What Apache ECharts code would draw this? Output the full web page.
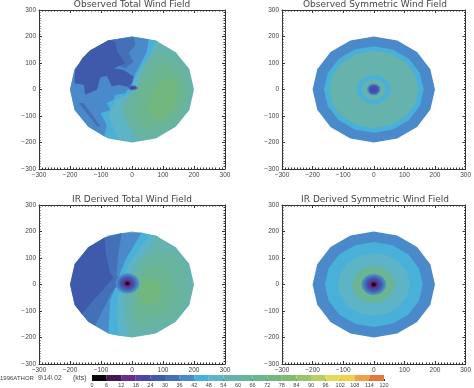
<!DOCTYPE html>
<html>
<head>
<meta charset="utf-8">
<style>html,body{margin:0;padding:0;background:#fff}#main{width:474px;height:388px}</style>
<script src="https://cdn.jsdelivr.net/npm/echarts@6/dist/echarts.min.js"></script>
</head>
<body>
<div id="main"></div>
<script>
// colour bar, one colour per 6 kt step
var barLevels = [0,6,12,18,24,30,36,42,48,54,60,66,72,78,84,90,96,102,108,114];
var barColors = ['#0a0508','#451a50','#6a2d8a','#4f45a5','#405aab','#4470b8','#4a8aca','#49b0da','#5cb4c6','#66b2ac',
                 '#68b49e','#6bb590','#72b87e','#80bd6e','#98c46c','#b8cf66','#e0dc55','#f0d048','#eca048','#e2783c'];

// storm outline, km from centre
var rim = [[200,0],[185,77],[141,141],[77,185],[0,200],[-77,185],[-141,141],[-185,77],[-200,0],[-185,-77],[-141,-141],[-77,-185],[0,-200],[77,-185],[141,-141],[185,-77]];

// observed total field, contour regions
var obsTotal48 = [[-40,-190],[10,-199],[0,-160],[-25,-110],[-35,-60],[-15,-25],[20,20],[30,70],[60,130],[85,180],[77,185],[0,100],[-100,-100]];
var obsTotal60 = [[30,-188],[100,-165],[150,-128],[182,-60],[190,10],[175,78],[130,128],[80,140],[45,90],[25,40],[10,0],[-5,-30],[-20,-80],[0,-140]];
var obsTotal66 = [[40,-150],[100,-135],[150,-90],[170,-30],[165,40],[130,90],[90,100],[60,60],[35,20],[20,-20],[10,-60],[15,-110]];
var obsTotal72 = [[70,-115],[110,-105],[140,-60],[150,0],[135,40],[105,45],[80,15],[60,-30],[50,-80]];
var obsTotal42 = [[-90,-176],[-45,-189],[-62,-139],[-78,-95],[-62,-64],[-52,-39],[-16,-20],[0,-8],[5,24],[16,55],[38,99],[65,143],[77,185],[0,198],[-100,100],[-150,-60]];
var obsTotal36 = [[-200,0],[-185,77],[-141,141],[-77,185],[0,200],[54,190],[48,143],[27,93],[11,61],[0,24],[-11,5],[-22,-14],[-54,-20],[-59,-39],[-81,-51],[-70,-77],[-102,-89],[-81,-133],[-90,-176],[-141,-141],[-185,-77]];
var obsTotal30a = [[-70,187],[5,198],[11,168],[-11,137],[5,105],[-22,80],[-60,100],[-60,170]];
var obsTotal30b = [[-172,-51],[-156,-51],[-102,-139],[-113,-140]];
var obsTotal24 = [[-75,187],[-54,181],[-48,143],[-22,99],[-59,80],[-27,74],[5,49],[0,24],[-11,9],[-43,18],[-65,11],[-81,51],[-102,46],[-113,-1],[-151,-20],[-156,18],[-186,24],[-183,74],[-161,118],[-134,149]];
var obsTotalEyeA = [[15,10],[35,12],[35,0],[15,-2]];
var obsTotalEyeB = [[-14,6],[-5,16],[12,14],[20,5],[10,-2],[-5,-3]];
var obsTotalEyeC = [[-8,7],[0,13],[12,10],[14,5],[5,1],[-3,1]];

// IR total field, contour regions
var irTotal60 = [[15,-170],[80,-165],[140,-125],[175,-60],[180,15],[165,80],[125,120],[80,120],[35,85],[12,40],[-5,-20],[-5,-90]];
var irTotal66 = [[25,-120],[80,-120],[125,-80],[140,-25],[125,40],[85,70],[50,60],[25,30],[12,-20],[12,-75]];
var irTotal72 = [[35,-70],[65,-80],[95,-50],[90,-5],[65,20],[40,15],[25,-15],[25,-45]];
var irTotal48 = [[58,188],[85,182],[10,77],[-12,26],[-26,-36],[-23,-99],[-12,-197],[-44,-193],[-100,-50],[0,100]];
var irTotal42 = [[31,196],[58,188],[-12,77],[-33,14],[-44,-36],[-49,-99],[-44,-193],[-77,-185],[-100,0],[-50,100]];
var irTotal36 = [[-33,194],[31,196],[-23,89],[-39,39],[-49,1],[-71,-61],[-76,-184],[-119,-156],[-141,-100],[-50,100]];
var irTotal30 = [[-89,177],[-33,194],[-45,110],[-50,40],[-40,10],[-70,-40],[-119,-156],[-141,-141],[-165,-108],[-120,0]];
var irTotal24 = [[-89,177],[-84,114],[-71,45],[-60,26],[-162,-111],[-185,-77],[-200,0],[-185,77],[-141,141]];
var irCoreCentre = [-15,4];
var irCoreRadii = [38,31,25,19,14,9,5];
var irCoreValues = [36,30,24,18,12,6,0];

// symmetric fields, ring radius and wind value
var obsSymRadii = [200,163,146,55,39,22,17,10];
var obsSymValues = [36,42,54,42,54,36,24,18];
var irSymRadii = [200,160,118,72,58,40,33,27,21,15,10,6];
var irSymValues = [36,42,48,60,66,36,30,24,18,12,6,0];

var ringAngles = [0,22.5,45,67.5,90,112.5,135,157.5,180,202.5,225,247.5,270,292.5,315,337.5];

function ring(r, c) {
    c = c || [0,0];
    return ringAngles.map(function (a) {
        return [c[0] + r * Math.cos(a * Math.PI / 180), c[1] + r * Math.sin(a * Math.PI / 180)];
    });
}
function colorOf(v) {
    return barColors[barLevels.indexOf(v)];
}
function ringBands(radii, values, c) {
    return radii.map(function (r, i) { return [values[i], ring(r, c)]; });
}

var panels = [
    {title:'Observed Total Wind Field', left:39, top:10, bands:[
        [54,rim],[48,obsTotal48],[60,obsTotal60],[66,obsTotal66],[72,obsTotal72],[42,obsTotal42],[36,obsTotal36],
        [30,obsTotal30a],[30,obsTotal30b],[24,obsTotal24],[66,obsTotalEyeA],[30,obsTotalEyeB],[18,obsTotalEyeC]]},
    {title:'Observed Symmetric Wind Field', left:282, top:10, bands:ringBands(obsSymRadii, obsSymValues)},
    {title:'IR Derived Total Wind Field', left:39, top:205, bands:[
        [54,rim],[60,irTotal60],[66,irTotal66],[72,irTotal72],[48,irTotal48],[42,irTotal42],[36,irTotal36],[30,irTotal30],[24,irTotal24]
    ].concat(ringBands(irCoreRadii, irCoreValues, irCoreCentre))},
    {title:'IR Derived Symmetric Wind Field', left:282, top:205, bands:ringBands(irSymRadii, irSymValues)}
];

var plotW = 186, plotH = 159;
var textColor = '#444';
var labelFont = 'Liberation Sans';

var option = {animation:false, backgroundColor:'#fff', grid:[], xAxis:[], yAxis:[], series:[], title:[]};

function minusLabel(v) {
    return String(v).replace('-', '\u2212');
}
function plainText(text, left, top, size) {
    return {text:text, left:left, top:top, padding:0,
        textStyle:{fontFamily:labelFont, fontWeight:'normal', fontSize:size, color:textColor}};
}

panels.forEach(function (p, i) {
    option.grid.push({left:p.left, top:p.top, width:plotW, height:plotH});
    option.title.push({
        text:p.title, left:p.left + plotW / 2, top:p.top - 10, textAlign:'center', padding:0,
        textStyle:{fontFamily:'DejaVu Sans', fontWeight:'normal', fontSize:9, color:textColor}
    });
    // four sided frame with inward ticks, labels only bottom and left
    ['bottom','top'].forEach(function (pos) {
        option.xAxis.push({
            gridIndex:i, type:'value', position:pos, min:-300, max:300, interval:100,
            axisLine:{onZero:false, lineStyle:{color:'#333', width:1}},
            axisTick:{inside:true, length:3, lineStyle:{color:'#333'}},
            minorTick:{show:true, splitNumber:10, length:1.5, lineStyle:{color:'#333'}},
            splitLine:{show:false},
            axisLabel:{show:pos === 'bottom', fontSize:6.5, margin:3, color:textColor, fontFamily:labelFont,
                showMinLabel:true, showMaxLabel:true, formatter:minusLabel}
        });
    });
    ['left','right'].forEach(function (pos) {
        option.yAxis.push({
            gridIndex:i, type:'value', position:pos, min:-300, max:300, interval:100,
            axisLine:{onZero:false, lineStyle:{color:'#333', width:1}},
            axisTick:{inside:true, length:3, lineStyle:{color:'#333'}},
            minorTick:{show:true, splitNumber:10, length:1.5, lineStyle:{color:'#333'}},
            splitLine:{show:false},
            axisLabel:{show:pos === 'left', fontSize:6.5, margin:3, color:textColor, fontFamily:labelFont,
                showMinLabel:true, showMaxLabel:true, formatter:minusLabel}
        });
    });
    option.series.push({
        type:'custom', xAxisIndex:i * 2, yAxisIndex:i * 2, silent:true, clip:true,
        data:p.bands.map(function (b, k) { return [k]; }),
        encode:{x:-1, y:-1},
        renderItem:function (params, api) {
            var band = p.bands[params.dataIndex];
            return {
                type:'polygon',
                shape:{points:band[1].map(function (pt) { return api.coord(pt); })},
                style:{fill:colorOf(band[0])}
            };
        }
    });
});

// colour bar along the bottom
option.grid.push({left:92, top:375, width:292, height:7});
option.xAxis.push({
    gridIndex:4, type:'value', min:0, max:120, interval:6,
    axisLine:{show:false}, splitLine:{show:false},
    axisTick:{inside:true, length:2, lineStyle:{color:'#333', width:1}},
    axisLabel:{fontSize:5.5, margin:1, color:textColor, fontFamily:labelFont, showMinLabel:true, showMaxLabel:true}
});
option.yAxis.push({gridIndex:4, type:'value', min:0, max:1, show:false});
option.series.push({
    type:'custom', xAxisIndex:8, yAxisIndex:8, silent:true, z:1,
    data:barLevels.map(function (v) { return [v]; }),
    encode:{x:-1, y:-1},
    renderItem:function (params, api) {
        var v = barLevels[params.dataIndex];
        var a = api.coord([v, 1]);
        var b = api.coord([v + 6, 0]);
        return {type:'rect', shape:{x:a[0], y:a[1], width:b[0] - a[0], height:b[1] - a[1]}, style:{fill:barColors[params.dataIndex]}};
    }
});
option.title.push(
    plainText('1996ATHOR', 0, 375, 6),
    plainText('9\\14\\ 02', 38, 375, 6.5),
    plainText('(kts)', 73, 375, 7)
);

var chart = echarts.init(document.getElementById('main'), null, {renderer:'canvas'});
chart.setOption(option);
</script>
</body>
</html>
